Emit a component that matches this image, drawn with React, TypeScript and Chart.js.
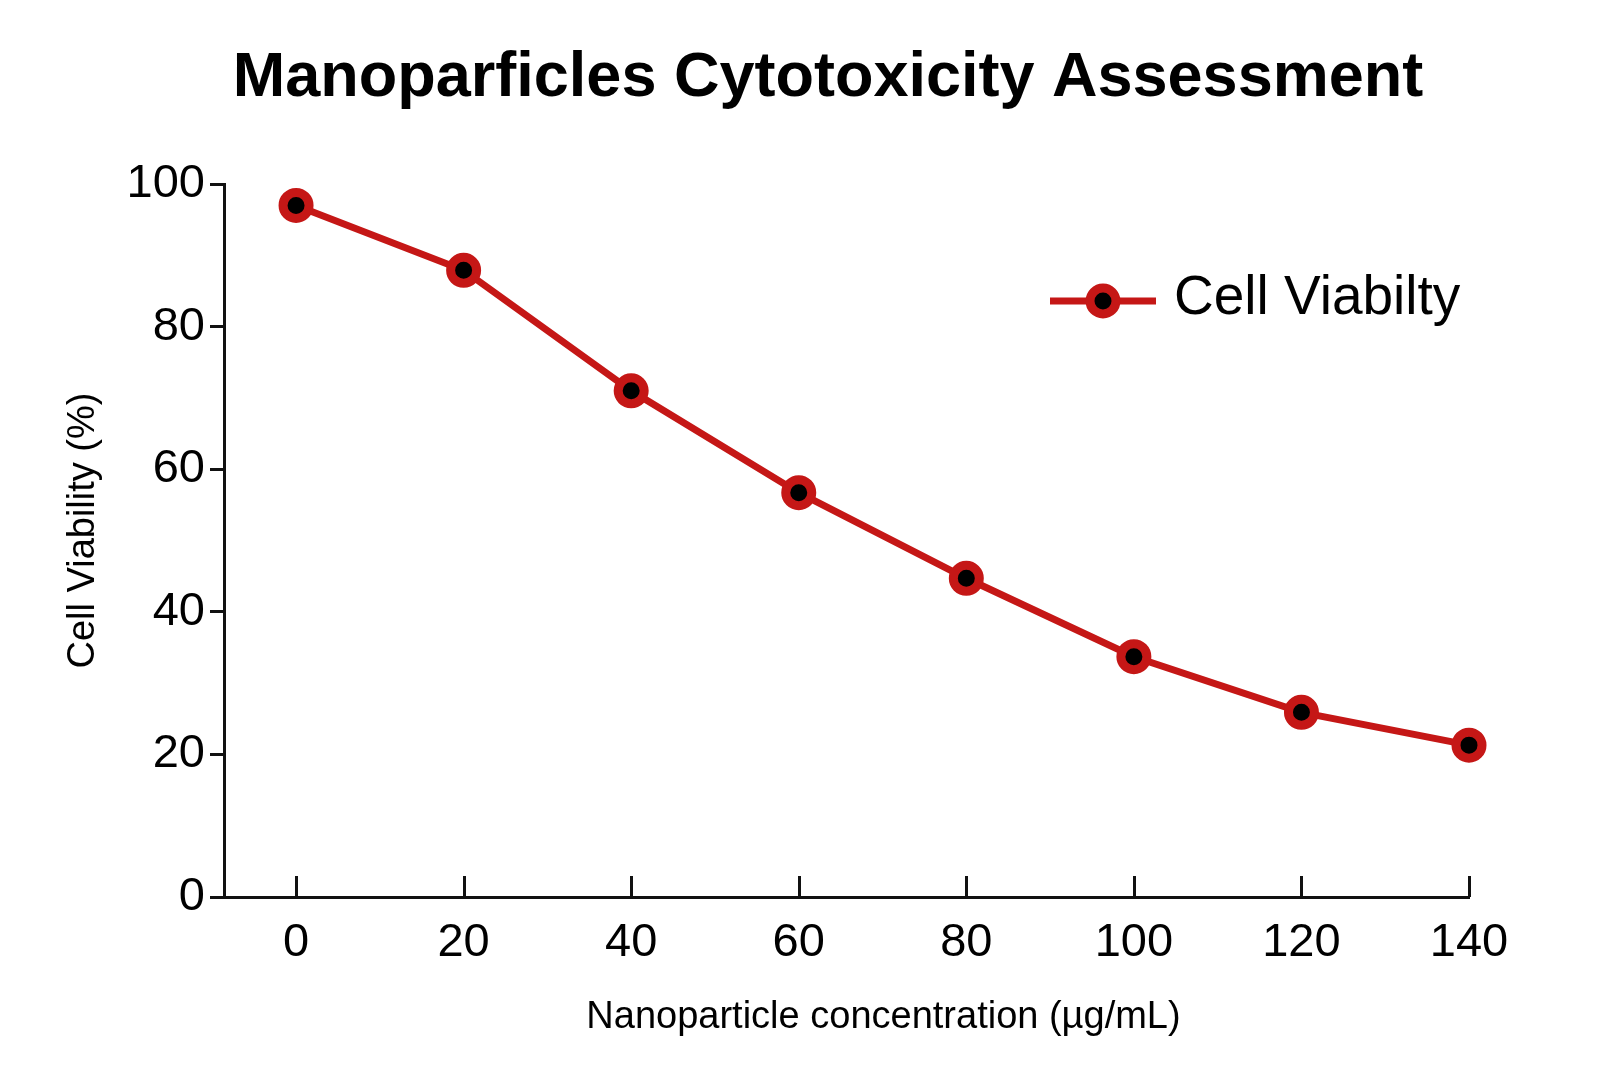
import { useEffect, useRef } from 'react';
import { Chart, registerables } from 'chart.js';

Chart.register(...registerables);

// Dose–response values
const concentrations = [0, 20, 40, 60, 80, 100, 120, 140];
const viability = [97.0, 87.9, 71.0, 56.7, 44.7, 33.7, 25.9, 21.3];

// Axis ticks
const xTickValues = [0, 20, 40, 60, 80, 100, 120, 140];
const yTickValues = [0, 20, 40, 60, 80, 100];

// Texts
const chartTitle = 'Manoparficles Cytotoxicity Assessment';
const seriesLabel = 'Cell Viabilty';
const xAxisTitle = 'Nanoparticle concentration (\u00b5g/mL)';
const yAxisTitle = 'Cell Viability (%)';

const FONT = '"Liberation Sans", Arial, Helvetica, sans-serif';
const RED = '#c51716';
const AXIS = '#111111';

const CANVAS_W = 1620;
const CANVAS_H = 1080;

// Title, inward x ticks, axis titles and the legend entry
const decorPlugin = {
  id: 'decor',
  afterDraw(chart: any) {
    const { ctx, chartArea: area, scales } = chart;
    const xs = scales.x;
    ctx.save();

    // main title, a little right of the canvas centre
    ctx.fillStyle = '#000';
    ctx.textAlign = 'center';
    ctx.textBaseline = 'middle';
    ctx.font = `bold 63px ${FONT}`;
    ctx.fillText(chartTitle, chart.width / 2 + 18, 79);

    ctx.strokeStyle = AXIS;
    ctx.lineWidth = 3;
    for (const t of xs.ticks) {
      const px = Math.round(xs.getPixelForValue(t.value)) + 0.5;
      ctx.beginPath();
      ctx.moveTo(px, area.bottom);
      ctx.lineTo(px, area.bottom - 21);
      ctx.stroke();
    }

    ctx.font = `38px ${FONT}`;
    ctx.fillText(xAxisTitle, (area.left + area.right) / 2 + 37, area.bottom + 121);

    ctx.save();
    ctx.translate(84, (area.top + area.bottom) / 2 - 10);
    ctx.rotate(-Math.PI / 2);
    ctx.font = `38px ${FONT}`;
    ctx.fillText(yAxisTitle, 0, 0);
    ctx.restore();

    // legend: line with marker, then label
    const ds = chart.data.datasets[0];
    const ly = area.top + 117;
    const lx0 = area.right - 419;
    const lx1 = lx0 + 106;
    ctx.strokeStyle = ds.borderColor;
    ctx.lineWidth = ds.borderWidth;
    ctx.beginPath();
    ctx.moveTo(lx0, ly);
    ctx.lineTo(lx1, ly);
    ctx.stroke();
    const cx = (lx0 + lx1) / 2;
    ctx.beginPath();
    ctx.arc(cx, ly, ds.pointRadius, 0, Math.PI * 2);
    ctx.fillStyle = ds.pointBackgroundColor;
    ctx.fill();
    ctx.lineWidth = ds.pointBorderWidth;
    ctx.strokeStyle = ds.pointBorderColor;
    ctx.stroke();

    ctx.fillStyle = '#000';
    ctx.textAlign = 'left';
    ctx.font = `55px ${FONT}`;
    ctx.fillText(ds.label, lx1 + 18, ly - 2);

    ctx.restore();
  },
};

export default function App() {
  const canvasRef = useRef<HTMLCanvasElement | null>(null);

  useEffect(() => {
    const canvas = canvasRef.current;
    if (!canvas) return;
    const chart = new Chart(canvas, {
      type: 'line',
      data: {
        datasets: [
          {
            label: seriesLabel,
            data: concentrations.map((c, i) => ({ x: c, y: viability[i] })),
            borderColor: RED,
            borderWidth: 7,
            tension: 0,
            pointRadius: 13,
            pointHoverRadius: 13,
            pointBorderWidth: 9,
            pointBorderColor: RED,
            pointBackgroundColor: '#000',
            clip: false,
          } as any,
        ],
      },
      options: {
        responsive: false,
        animation: false,
        devicePixelRatio: 1,
        events: [],
        layout: { padding: { left: 0, right: CANVAS_W - 1469, top: 184, bottom: 0 } },
        plugins: {
          legend: { display: false },
          tooltip: { enabled: false },
          title: { display: false },
        },
        scales: {
          x: {
            type: 'linear',
            min: -8.6,
            max: 140,
            afterBuildTicks: (s: any) => {
              s.ticks = xTickValues.map((v) => ({ value: v }));
            },
            afterFit: (s: any) => {
              s.height = 183;
            },
            grid: { display: false, drawTicks: false },
            border: { display: true, color: AXIS, width: 3 },
            ticks: {
              color: '#000',
              padding: 18,
              maxRotation: 0,
              font: { family: FONT, size: 47 },
              callback: (v: any) => String(v),
            },
          },
          y: {
            type: 'linear',
            min: 0,
            max: 100,
            afterBuildTicks: (s: any) => {
              s.ticks = yTickValues.map((v) => ({ value: v }));
            },
            afterFit: (s: any) => {
              s.width = 224;
            },
            grid: {
              drawOnChartArea: false,
              drawTicks: true,
              tickLength: 14,
              tickWidth: 3,
              tickColor: AXIS,
            },
            border: { display: true, color: AXIS, width: 3 },
            ticks: {
              color: '#000',
              padding: 5,
              font: { family: FONT, size: 47 },
              callback: (v: any) => String(v),
            },
          },
        },
      },
      plugins: [decorPlugin],
    });
    return () => chart.destroy();
  }, []);

  return (
    <div
      style={{
        position: 'fixed',
        left: 0,
        top: 0,
        width: 1620,
        height: 1080,
        background: '#fff',
        overflow: 'hidden',
      }}
    >
      <canvas ref={canvasRef} width={CANVAS_W} height={CANVAS_H} style={{ display: 'block' }} />
    </div>
  );
}
